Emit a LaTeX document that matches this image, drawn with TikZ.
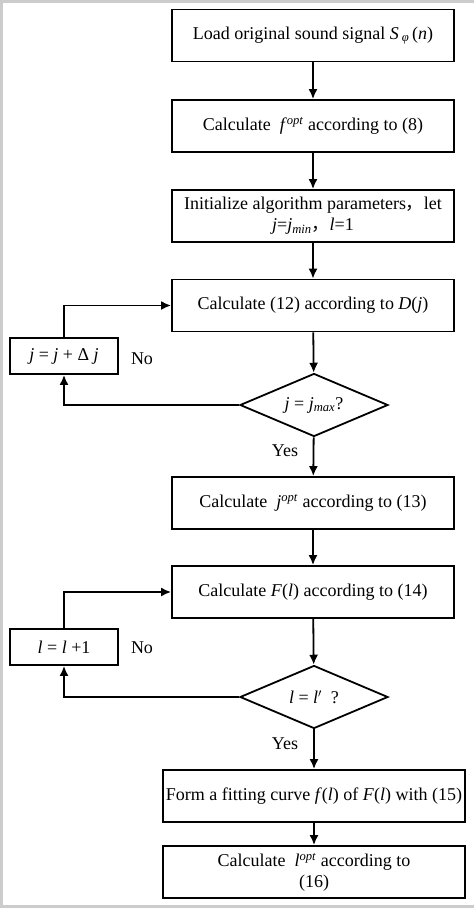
\documentclass[tikz,border=0pt]{standalone}
\usepackage{fontspec}
\setmainfont{Liberation Serif}
\newfontfamily\cjk{Noto Sans CJK SC}
\usetikzlibrary{shapes.geometric,arrows.meta}
\newcommand{\vr}[1]{\textit{#1}}
\tikzset{
  stepbox/.style={draw,line width=1.8pt,minimum width=282pt,minimum height=52pt,
    align=center,inner sep=2pt,font=\fontsize{18}{21}\selectfont},
  smallbox/.style={draw,line width=1.8pt,minimum width=108pt,minimum height=36pt,
    font=\fontsize{18}{21}\selectfont},
  decide/.style={draw,diamond,line width=1.8pt,aspect=2.35,minimum width=148pt,
    minimum height=63pt,inner sep=0pt,font=\fontsize{18}{21}\selectfont},
  flow/.style={->,line width=1.8pt},
  note/.style={font=\fontsize{18}{21}\selectfont}
}
\begin{document}
\begin{tikzpicture}[>={Latex[length=10pt,width=9pt]},x=1pt,y=-1pt]
      \useasboundingbox (0,0) rectangle (474,908);
      \fill[gray!40] (0,0) rectangle (474,2.5);
      \fill[gray!40] (0,0) rectangle (2.5,908);
      \fill[gray!40] (0,905) rectangle (474,908);
      %
      \node[stepbox] (load) at (313,35.5) {Load original sound signal \vr{S}\,\textsubscript{\vr{φ}}\,(\vr{n})};
      \node[stepbox] (fopt) at (313,126) {Calculate \ \vr{f}\textsuperscript{\vr{opt}} according to (8)};
      \node[stepbox] (init) at (313,216) {Initialize algorithm parameters{\cjk ，}let\\ \vr{j}=\vr{j}\textsubscript{\vr{min}}{\cjk ，}\vr{l}=1};
      \node[stepbox] (dj) at (313,305.5) {Calculate (12) according to \vr{D}(\vr{j})};
      \node[decide] (jmax) at (314,405) {\vr{j} = \vr{j}\textsubscript{\vr{max}}?};
      \node[smallbox] (jinc) at (64,356) {\vr{j} = \vr{j} + Δ \vr{j}};
      \node[stepbox] (jopt) at (313,503) {Calculate \ \vr{j}\textsuperscript{\vr{opt}} according to (13)};
      \node[stepbox] (fl) at (313,592) {Calculate \vr{F}(\vr{l}) according to (14)};
      \node[decide] (lend) at (314,697) {\vr{l} = \vr{l}$'$ \ ?};
      \node[smallbox] (linc) at (64,647) {\vr{l} = \vr{l} +1};
      \node[stepbox,minimum width=302pt] (fit) at (314,796) {Form a fitting curve \vr{f}(\vr{l}) of \vr{F}(\vr{l}) with (15)};
      \node[stepbox,minimum width=302pt] (lopt) at (314,872) {Calculate \ \vr{l}\textsuperscript{\vr{opt}} according to\\ (16)};
      %
      \draw[flow] (load) -- (fopt);
      \draw[flow] (fopt) -- (init);
      \draw[flow] (init) -- (dj);
      \draw[flow] (dj) -- (jmax);
      \draw[flow] (jmax) -- (jopt);
      \draw[flow] (jmax.west) -| (jinc.south);
      \draw[flow] (jinc.north) |- (dj.west);
      \draw[flow] (jopt) -- (fl);
      \draw[flow] (fl) -- (lend);
      \draw[flow] (lend.south) -- (lend.south |- fit.north);
      \draw[flow] (lend.west) -| (linc.south);
      \draw[flow] (linc.north) |- (fl.west);
      \draw[flow] (fit) -- (lopt);
      %
      \node[note] (no1) at (142,359) {No};
      \node[note] (yes1) at (285,451) {Yes};
      \node[note] (no2) at (142,648) {No};
      \node[note] (yes2) at (285,744) {Yes};
    \end{tikzpicture}
\end{document}
